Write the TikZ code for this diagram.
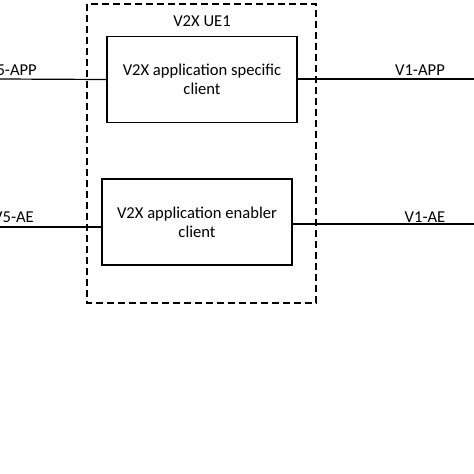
\documentclass[tikz,border=0pt]{standalone}
\usepackage{fontspec}
\setmainfont{Carlito}
\begin{document}
\begin{tikzpicture}[x=1pt,y=-1pt,
  lbl/.style={font=\fontsize{16.6}{18}\selectfont, inner sep=0pt},
  blk/.style={draw, line width=1.1pt, minimum width=190pt, minimum height=86pt, align=center, font=\fontsize{16.6}{19}\selectfont, inner sep=0pt},
  conn/.style={line width=1.2pt},
  grp/.style={draw, line width=1.2pt, dash pattern=on 7pt off 4pt}]
\useasboundingbox (0,0) rectangle (474,474);
\begin{scope}
\clip (0,0) rectangle (474,474);
\draw[grp] (87,4) rectangle (316,303);
\node[lbl] (ue) at (202,21) {V2X UE1};
\node[blk] (asc) at (202,79.5) {V2X application specific\\client};
\node[blk] (aec) at (197,222) {V2X application enabler\\client};
\coordinate (l1) at (0,79);
\coordinate (r1) at (474,79);
\coordinate (l2) at (0,227);
\coordinate (r2) at (474,224);
\draw[conn] (l1) -- (asc.west);
\draw[conn] (asc.east |- r1) -- (r1);
\draw[conn] (l2) -- (aec.west |- l2);
\draw[conn] (aec.east |- r2) -- (r2);
\node[lbl, anchor=east] (v5app) at (37,70) {V5-APP};
\node[lbl] (v1app) at (420,70) {V1-APP};
\node[lbl, anchor=east] (v5ae) at (34,217) {V5-AE};
\node[lbl] (v1ae) at (425,217) {V1-AE};
\end{scope}
\end{tikzpicture}
\end{document}
